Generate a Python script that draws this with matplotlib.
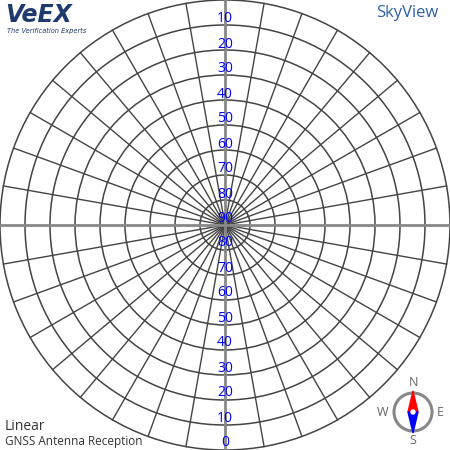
import numpy as np
import matplotlib
matplotlib.use("Agg")
import matplotlib.pyplot as plt
from matplotlib.patches import Circle, Polygon

elev_labels = [10, 20, 30, 40, 50, 60, 70, 80, 90]
bottom_labels = [80, 70, 60, 50, 40, 30, 20, 10, 0]
azimuths = list(range(0, 360, 10))
title = "SkyView"
mode = "Linear"
subtitle = "GNSS Antenna Reception"

fig = plt.figure(figsize=(4.5, 4.5), dpi=100)
ax = fig.add_axes([0, 0, 1, 1])
ax.set_xlim(0, 450); ax.set_ylim(450, 0); ax.axis('off')
cx, cy = 225, 225
rmax = 225
scale = rmax / 90.0
grid = '#444444'
for e in elev_labels:
    r = (90 - e + 10) * scale
    ax.add_patch(Circle((cx, cy), r, fill=False, ec=grid, lw=1.1))
for a in azimuths:
    if a % 90 == 0:
        continue
    t = np.radians(a)
    ax.plot([cx, cx + rmax*np.sin(t)], [cy, cy - rmax*np.cos(t)], color=grid, lw=1.0)
ax.plot([0, 450], [cy, cy], color='#888888', lw=2)
ax.plot([cx, cx], [0, 450], color='#888888', lw=2)

for e in elev_labels:
    ax.text(cx, 25*e/10 - 6, str(e), color='blue', fontsize=10, ha='center', va='center', family='Open Sans')
for e in bottom_labels:
    ax.text(cx, 443 - 25*e/10, str(e), color='blue', fontsize=10, ha='center', va='center', family='Open Sans')

ax.text(438, 13, title, color='#2e5fa8', fontsize=12, ha='right', va='center', family='Open Sans')
ax.text(5, 427, mode, color='#333333', fontsize=10, ha='left', va='center', family='Open Sans')
ax.text(5, 441, subtitle, color='#333333', fontsize=8.5, ha='left', va='center', family='Open Sans')

ax.text(5, 15, "VeEX", color='#1f3a6e', fontsize=17, fontweight='bold', style='italic', ha='left', va='center', family='DejaVu Sans')
ax.text(7, 31, "The Verification Experts", color='#1f3a6e', fontsize=4.8, style='italic', ha='left', va='center')

# compass
kx, ky = 413, 412
ax.add_patch(Circle((kx, ky), 19, fill=False, ec='#888888', lw=2.2))
ax.add_patch(Polygon([(kx, ky-21), (kx-5, ky), (kx+5, ky)], color='red'))
ax.add_patch(Polygon([(kx, ky+21), (kx-5, ky), (kx+5, ky)], color='blue'))
ax.add_patch(Circle((kx, ky), 2, color='white'))
for s, x, y in [("N", kx, ky-29), ("S", kx, ky+29), ("W", kx-30, ky), ("E", kx+27, ky)]:
    ax.text(x, y, s, color='#666666', fontsize=9, ha='center', va='center', family='Open Sans')
fig.savefig("out.png", dpi=100)
